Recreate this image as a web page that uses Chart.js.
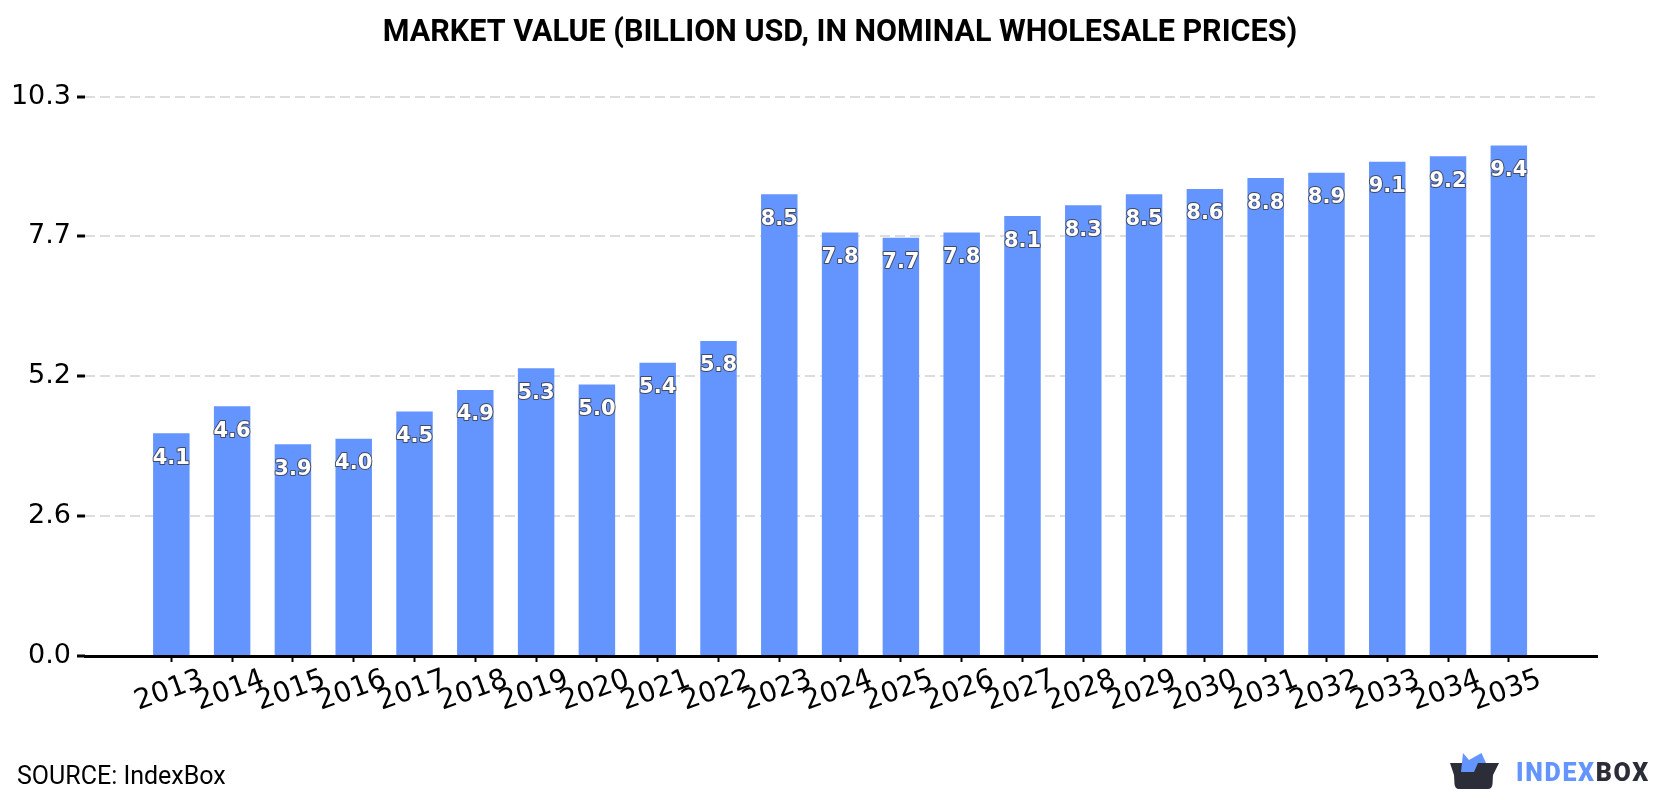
<!DOCTYPE html>
<html>
<head>
<meta charset="utf-8">
<title>Market value</title>
<script src="https://cdn.jsdelivr.net/npm/chart.js@4/dist/chart.umd.min.js"></script>
<style>
    html, body { margin: 0; padding: 0; background: #fff; }
    #wrap { position: relative; width: 1680px; height: 800px; overflow: hidden; }
    #source { position: absolute; left: 17px; top: 761px; font: 25px Roboto, sans-serif; color: #000; line-height: 30px; }
    #logo { position: absolute; left: 1450px; top: 752px; }
    #brand { position: absolute; left: 1516px; top: 759px; font: 900 25px Roboto, sans-serif; line-height: 28px; letter-spacing: 1.7px; color: #2b2d38; }
    #brand span { color: #6495ff; }
</style>
</head>
<body>
<div id="wrap">
    <canvas id="chart" width="1680" height="800"></canvas>
    <div id="source">SOURCE: IndexBox</div>
    <svg id="logo" width="50" height="38" viewBox="0 0 50 38">
        <path d="M0 11 H49 L43 23 L42.5 32 Q42 37 38 37 H9 Q5 37 4.5 32 L4 23 Z" fill="#2b2d38"/>
        <path d="M11 20 L13 1 L19 8 L31.5 1 L36 11 L28 11 L24 20 Z" fill="#6495ff"/>
    </svg>
    <div id="brand"><span>INDEX</span>BOX</div>
</div>
<script>
const years = [2013, 2014, 2015, 2016, 2017, 2018, 2019, 2020, 2021, 2022, 2023, 2024,
    2025, 2026, 2027, 2028, 2029, 2030, 2031, 2032, 2033, 2034, 2035];
const values = [4.1, 4.6, 3.9, 4.0, 4.5, 4.9, 5.3, 5.0, 5.4, 5.8, 8.5, 7.8,
    7.7, 7.8, 8.1, 8.3, 8.5, 8.6, 8.8, 8.9, 9.1, 9.2, 9.4];
const yTicks = [0, 2.575, 5.15, 7.725, 10.3];
const yTickLabels = ['0.0', '2.6', '5.2', '7.7', '10.3'];

// bar value labels, a fixed distance below the top of each bar
const barLabels = {
    id: 'barLabels',
    afterDatasetsDraw(chart) {
        const c = chart.ctx;
        c.save();
        c.font = 'bold 21px "DejaVu Sans"';
        c.textAlign = 'center';
        c.textBaseline = 'middle';
        c.lineJoin = 'round';
        chart.getDatasetMeta(0).data.forEach((bar, i) => {
            const text = values[i].toFixed(1);
            c.lineWidth = 2;
            c.strokeStyle = 'rgba(60, 60, 70, 0.85)';
            c.strokeText(text, bar.x, bar.y + 25);
            c.fillStyle = '#fff';
            c.fillText(text, bar.x, bar.y + 25);
        });
        c.restore();
    }
};

// year labels are centred on their tick, the built-in rotation right-aligns them
const yearLabels = {
    id: 'yearLabels',
    afterDraw(chart) {
        const c = chart.ctx;
        const x = chart.scales.x;
        c.save();
        c.font = '28px "DejaVu Sans"';
        c.fillStyle = '#000';
        c.textAlign = 'center';
        c.textBaseline = 'middle';
        years.forEach(year => {
            c.save();
            c.translate(x.getPixelForValue(year) - 2, chart.chartArea.bottom + 35);
            c.rotate(-20 * Math.PI / 180);
            c.fillText(String(year), 0, 0);
            c.restore();
        });
        c.restore();
    }
};

new Chart(document.getElementById('chart').getContext('2d'), {
    type: 'bar',
    data: {
        datasets: [{
            data: years.map((year, i) => ({ x: year, y: values[i] })),
            backgroundColor: '#6495ff',
            barPercentage: 0.6,
            categoryPercentage: 1
        }]
    },
    options: {
        responsive: false,
        animation: false,
        plugins: {
            legend: { display: false },
            tooltip: { enabled: false },
            title: {
                display: true,
                text: 'MARKET VALUE (BILLION USD, IN NOMINAL WHOLESALE PRICES)',
                color: '#000',
                font: { family: 'Roboto', size: 30.5, weight: 'bold' },
                padding: { top: 15, bottom: 45 }
            }
        },
        scales: {
            x: {
                type: 'linear',
                offset: false,
                min: 2013 - 1.42,
                max: 2035 + 1.45,
                afterBuildTicks: scale => { scale.ticks = years.map(value => ({ value })); },
                afterFit: scale => { scale.height = 144; },
                border: { display: true, color: '#000', width: 3 },
                grid: { offset: false, drawOnChartArea: false, drawTicks: true, tickLength: 6, tickColor: '#000', tickWidth: 2 },
                ticks: { display: false }
            },
            y: {
                min: 0,
                max: 10.3,
                afterBuildTicks: scale => { scale.ticks = yTicks.map(value => ({ value })); },
                afterFit: scale => { scale.width = 85; },
                border: { display: false, dash: [10, 5] },
                grid: {
                    color: '#dddddd',
                    lineWidth: 2,
                    tickLength: 8,
                    tickColor: '#000',
                    tickWidth: 3,
                    tickBorderDash: []
                },
                ticks: {
                    color: '#000',
                    padding: 6,
                    font: { family: '"DejaVu Sans"', size: 27 },
                    callback: (value, index) => yTickLabels[index]
                }
            },
            // empty axis, keeps the right margin without pushing the title off centre
            rightMargin: {
                position: 'right',
                afterFit: scale => { scale.width = 83; },
                border: { display: false },
                grid: { display: false },
                ticks: { display: false }
            }
        }
    },
    plugins: [barLabels, yearLabels]
});
</script>
</body>
</html>
